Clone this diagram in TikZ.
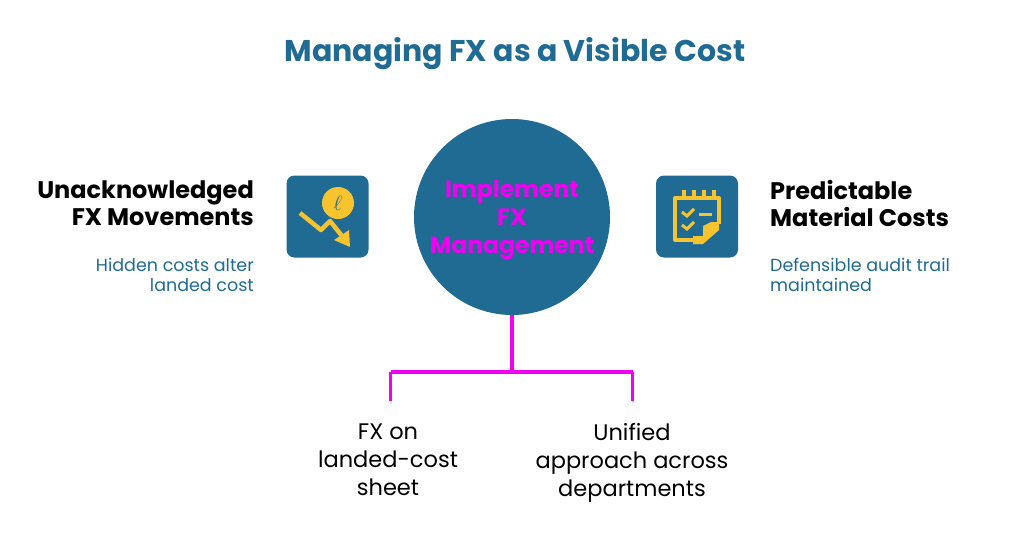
\documentclass[tikz,border=0pt]{standalone}
\usepackage{fontspec}
\setmainfont{Poppins}
\usetikzlibrary{positioning}
\definecolor{fxblue}{RGB}{31,107,148}
\definecolor{fxmag}{RGB}{240,0,240}
\definecolor{fxgold}{RGB}{247,196,48}
\begin{document}
\begin{tikzpicture}[x=1pt,y=-1pt,
  iconbox/.style={draw=none,fill=fxblue,rounded corners=8pt,minimum width=82pt,minimum height=82pt},
  heading/.style={font=\fontsize{24}{27}\selectfont\bfseries,text=black,align=#1},
  sub/.style={font=\fontsize{17.5}{20}\selectfont,text=fxblue,align=#1},
  branch/.style={font=\fontsize{22.5}{28}\selectfont,align=center},
  link/.style={draw=fxmag,line width=3.8pt}]
\useasboundingbox (0,0) rectangle (1024,544);
% title
\node[font=\fontsize{30}{32}\selectfont\bfseries,text=fxblue] (title) at (515,54) {Managing FX as a Visible Cost};
% hub
\node[circle,fill=fxblue,minimum size=196pt,inner sep=0pt] (hub) at (512,217) {};
\node[font=\fontsize{23.5}{28}\selectfont\bfseries,text=fxmag,align=center] (hubtxt) at (512,220) {Implement\\FX\\Management};
% left side
\node[iconbox] (lbox) at (327.5,216.5) {};
\node[heading=right,anchor=east,inner sep=0pt] (lhead) at (254,203) {Unacknowledged\\FX Movements};
\node[sub=right,anchor=east,inner sep=0pt] (lsub) at (254,275) {Hidden costs alter\\landed cost};
% right side
\node[iconbox] (rbox) at (697,216.5) {};
\node[heading=left,anchor=west,inner sep=0pt] (rhead) at (770,203) {Predictable\\Material Costs};
\node[sub=left,anchor=west,inner sep=0pt] (rsub) at (770,275) {Defensible audit trail\\maintained};
% icon: falling currency
\fill[fxgold] (338,203) circle (16);
\node[text=fxblue] (coin) at (338,203) {\fontsize{20}{20}\selectfont$\ell$};
\draw[fxgold,line width=4.5pt,line join=round] (300,213) -- (321,230) -- (330,221) -- (342,236);
\fill[fxgold] (334,240) -- (350,247) -- (349,230) -- cycle;
% icon: checklist
\draw[fxgold,line width=4pt,line join=round] (693,240) -- (675,240) -- (675,198) -- (719,198) -- (719,224);
\fill[fxgold] (719,222) -- (719,230) -- (703,244) -- (693,244) -- (693,236) -- (703,236) -- (703,226) -- (711,222) -- cycle;
\foreach \xx in {684,694,704,714}{\draw[fxgold,line width=3.5pt] (\xx,190) -- (\xx,199);}
\draw[fxgold,line width=3pt] (682,212) -- (687,216) -- (694,209);
\draw[fxgold,line width=3pt] (682,225) -- (687,229) -- (694,222);
\draw[fxgold,line width=3pt] (699,214) -- (712,214);
% branches
\coordinate (jn) at (512,372);
\coordinate (lj) at (390.5,372);
\coordinate (rj) at (632.5,372);
\node[branch,inner sep=0pt] (leftleaf) at (388,460) {FX on\\landed-cost\\sheet};
\node[branch,inner sep=0pt] (rightleaf) at (632,463) {Unified\\approach across\\departments};
\draw[link] (hub.south) -- (jn);
\draw[link] (lj) -- (rj);
\draw[link] (lj) -- (390.5,401);
\draw[link] (rj) -- (632.5,401);
\end{tikzpicture}
\end{document}
